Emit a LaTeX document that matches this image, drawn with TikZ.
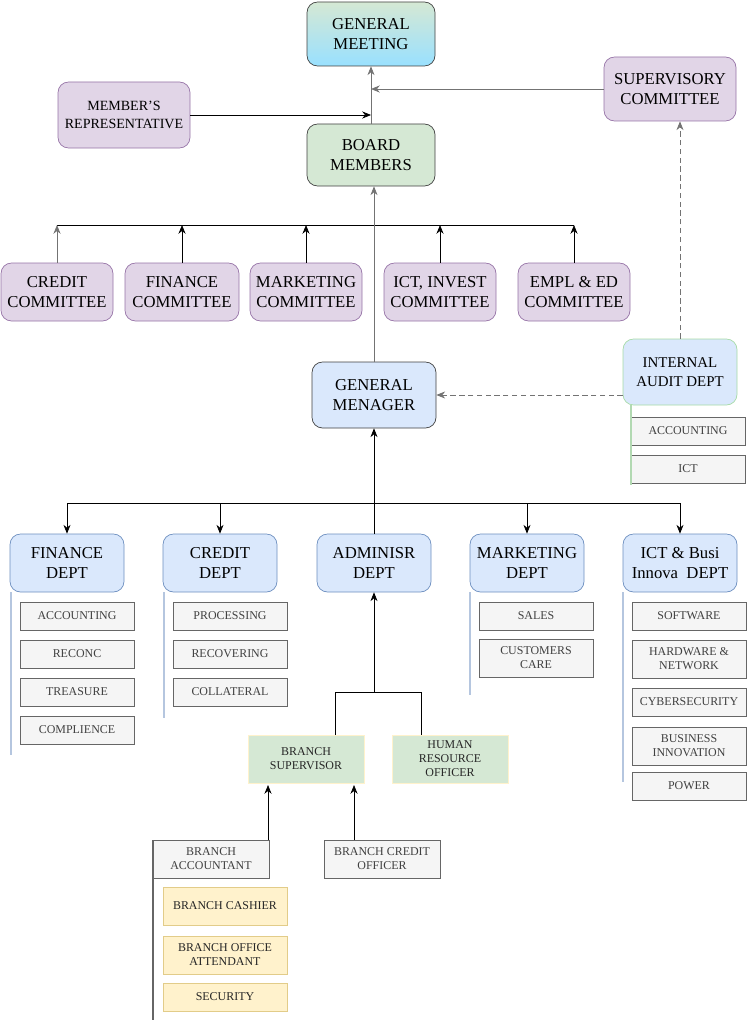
\documentclass[tikz,border=0pt]{standalone}
\usepackage{fontspec}
\setmainfont{Liberation Serif}
\usetikzlibrary{positioning,arrows.meta}
\definecolor{grnF}{HTML}{D5E8D4}
\definecolor{bluF}{HTML}{DAE8FC}
\definecolor{bluD}{HTML}{6C8EBF}
\definecolor{purF}{HTML}{E1D5E7}
\definecolor{purD}{HTML}{9673A6}
\definecolor{grayF}{HTML}{F5F5F5}
\definecolor{yelF}{HTML}{FFF2CC}
\definecolor{yelD}{HTML}{D6B656}
\tikzset{
  big/.style={rounded corners=6pt,align=center,font=\fontsize{9.5}{11}\selectfont,inner sep=1pt},
  top/.style={big,draw=black!75,minimum width=128*0.02cm,minimum height=64*0.02cm},
  comm/.style={big,fill=purF,draw=purD,minimum width=112*0.02cm,minimum height=58*0.02cm},
  dept/.style={big,fill=bluF,draw=bluD,minimum width=114*0.02cm,minimum height=58*0.02cm},
  sub/.style={draw=black!60,fill=grayF,text=black!75,align=center,inner sep=1pt,
    font=\fontsize{6.8}{8}\selectfont,minimum width=114*0.02cm,minimum height=28*0.02cm},
  br/.style={sub,fill=grnF,draw=yelF,text=black!85,minimum width=116*0.02cm,minimum height=48*0.02cm},
  yel/.style={sub,fill=yelF,draw=yelD!70,text=black!85,minimum width=124*0.02cm},
  side/.style={line width=0.6pt},
  arr/.style={-{Stealth[length=5pt,width=4pt]},black},
  garr/.style={-{Stealth[length=5pt,width=4pt]},black!55},
  darr/.style={garr,densely dashed}
}
\begin{document}
\begin{tikzpicture}[x=0.02cm,y=-0.02cm]
\useasboundingbox (0,0) rectangle (747,1024);
% top
\node (meet) [top,top color=grnF,bottom color=blue!30!cyan!40] at (371,34) {GENERAL\\MEETING};
\node (board) [top,fill=grnF,minimum height=62*0.02cm] at (371,155) {BOARD\\MEMBERS};
\node (rep) [comm,font=\fontsize{8}{10}\selectfont,minimum width=132*0.02cm,minimum height=66*0.02cm] at (124,115) {MEMBER'S\\REPRESENTATIVE};
\node (sup) [comm,minimum width=132*0.02cm,minimum height=64*0.02cm] at (670,89) {SUPERVISORY\\COMMITTEE};
\coordinate (mj) at (371,115);
\coordinate (sj) at (371,89);
\draw[garr] (board) -- (meet);
\draw[arr] (rep.east) -- (mj);
\draw[garr] (sup.west) -- (sj);
% committees
\node (c1) [comm] at (57,292) {CREDIT\\COMMITTEE};
\node (c2) [comm,minimum width=114*0.02cm] at (182,292) {FINANCE\\COMMITTEE};
\node (c3) [comm] at (306,292) {MARKETING\\COMMITTEE};
\node (c4) [comm] at (440,292) {ICT, INVEST\\COMMITTEE};
\node (c5) [comm] at (574,292) {EMPL \& ED\\COMMITTEE};
\draw (57,225) -- (574,225);
\draw[garr] (c1.north) -- (57,225);
\foreach \c in {c2,c3,c4,c5} \draw[arr] (\c.north) -- (\c.north |- 0,225);
% manager
\node (gm) [top,fill=bluF,minimum width=124*0.02cm,minimum height=66*0.02cm] at (374,395) {GENERAL\\MENAGER};
\draw[garr] (gm.north) -- (gm.north |- board.south);
\node (audit) [big,fill=bluF,draw=green!60!black!35,font=\fontsize{8.5}{10.5}\selectfont,minimum width=114*0.02cm,minimum height=66*0.02cm] at (680,372) {INTERNAL\\AUDIT DEPT};
\draw[darr] (audit.west |- gm.east) -- (gm.east);
\draw[darr] (audit.north) -- (audit.north |- sup.south);
\node (a1) [sub] at (688,431) {ACCOUNTING};
\node (a2) [sub] at (688,469) {ICT};
\draw[side,draw=green!50!black!30] (631,405) -- (631,485);
% departments
\node (d1) [dept] at (67,563) {FINANCE\\DEPT};
\node (d2) [dept] at (220,563) {CREDIT\\DEPT};
\node (d3) [dept] at (374,563) {ADMINISR\\DEPT};
\node (d4) [dept] at (527,563) {MARKETING\\DEPT};
\node (d5) [dept] at (680,563) {ICT \& Busi\\Innova~ DEPT};
\draw (67,503) -- (680,503);
\draw[arr] (d3.north) -- (gm.south);
\foreach \d in {d1,d2,d4,d5} \draw[arr] (\d.north |- 0,503) -- (\d.north);
% department subs
\foreach \t [count=\i] in {ACCOUNTING,RECONC,TREASURE,COMPLIENCE}
  \node (f\i) [sub] at (77,578+38*\i) {\t};
\draw[side,draw=bluD!50] (11,592) -- (11,755);
\foreach \t [count=\i] in {PROCESSING,RECOVERING,COLLATERAL}
  \node (k\i) [sub] at (230,578+38*\i) {\t};
\draw[side,draw=bluD!50] (164,592) -- (164,718);
\node (m1) [sub] at (536,616) {SALES};
\node (m2) [sub,minimum height=38*0.02cm] at (536,658) {CUSTOMERS\\CARE};
\draw[side,draw=bluD!50] (470,592) -- (470,695);
\node (i1) [sub] at (689,616) {SOFTWARE};
\node (i2) [sub,minimum height=38*0.02cm] at (689,659) {HARDWARE \&\\NETWORK};
\node (i3) [sub] at (689,702) {CYBERSECURITY};
\node (i4) [sub,minimum height=38*0.02cm] at (689,746) {BUSINESS\\INNOVATION};
\node (i5) [sub] at (689,786) {POWER};
\draw[side,draw=bluD!50] (623,592) -- (623,782);
% branch
\node (bs) [br] at (306,759) {BRANCH\\SUPERVISOR};
\node (hr) [br] at (450,759) {HUMAN\\RESOURCE\\OFFICER};
\coordinate (aj) at (374,692);
\draw[arr] (aj) -- (d3.south);
\draw (335,735) |- (421,692) -- (421,735);
\node (ba) [sub,minimum width=116*0.02cm,minimum height=38*0.02cm] at (211,859) {BRANCH\\ACCOUNTANT};
\node (bc) [sub,minimum width=116*0.02cm,minimum height=38*0.02cm] at (382,859) {BRANCH CREDIT\\OFFICER};
\draw[arr] (268,840) -- (268,785);
\draw[arr] (354,840) -- (354,785);
\node (y1) [yel,minimum height=38*0.02cm] at (225,906) {BRANCH CASHIER};
\node (y2) [yel,minimum height=38*0.02cm] at (225,955) {BRANCH OFFICE\\ATTENDANT};
\node (y3) [yel] at (225,997) {SECURITY};
\draw[side,draw=black!60] (153,840) -- (153,1020);
\end{tikzpicture}
\end{document}
